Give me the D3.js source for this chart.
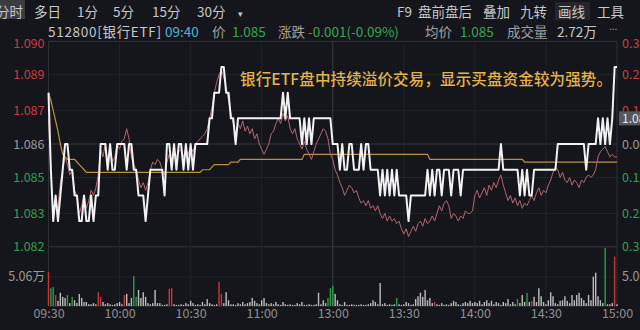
<!DOCTYPE html>
<html>
<head>
<meta charset="utf-8">
<script src="https://cdnjs.cloudflare.com/ajax/libs/d3/7.8.5/d3.min.js"></script>
<style>
html, body { margin: 0; padding: 0; background: #15161b; overflow: hidden; }
svg { display: block; font-family: "Noto Sans CJK SC", "Microsoft YaHei", sans-serif; }
.axis path, .axis line { display: none; }
</style>
</head>
<body>
<script>
// set up SVG
var w = 640;
var h = 330;

// plot box
var pdL = 48.5;
var pdR = 617;
var pdT = 41.3;
var pdB = 246.8;
var volBase = 306;

var prevClose = 1.086;

// minute prices 09:30 .. 15:00 (lunch break collapsed)
var prices = [
  1.088,1.085,1.083,1.084,1.083,1.084,1.085,1.086,1.086,1.085,
  1.085,1.084,1.084,1.083,1.083,1.084,1.083,1.083,1.084,1.083,
  1.084,1.084,1.086,1.086,1.086,1.085,1.086,1.085,1.085,1.086,
  1.086,1.086,1.086,1.085,1.086,1.086,1.085,1.085,1.084,1.084,
  1.084,1.083,1.084,1.085,1.085,1.085,1.085,1.085,1.085,1.084,
  1.086,1.086,1.085,1.086,1.085,1.086,1.086,1.085,1.086,1.085,
  1.086,1.085,1.086,1.086,1.086,1.086,1.086,1.086,1.087,1.087,
  1.088,1.088,1.088,1.089,1.089,1.088,1.088,1.087,1.087,1.086,
  1.087,1.087,1.087,1.087,1.087,1.087,1.087,1.087,1.087,1.087,
  1.087,1.087,1.087,1.087,1.087,1.087,1.087,1.087,1.087,1.088,
  1.087,1.088,1.087,1.087,1.087,1.087,1.087,1.086,1.087,1.086,
  1.087,1.086,1.087,1.087,1.087,1.087,1.087,1.087,1.087,1.087,
  1.086,1.086,1.086,1.085,1.086,1.085,1.085,1.086,1.086,1.085,
  1.085,1.085,1.086,1.085,1.086,1.086,1.085,1.085,1.085,1.085,
  1.084,1.085,1.084,1.085,1.084,1.085,1.084,1.085,1.084,1.084,
  1.084,1.084,1.083,1.084,1.084,1.084,1.084,1.084,1.084,1.084,
  1.085,1.084,1.085,1.084,1.085,1.085,1.084,1.085,1.085,1.085,
  1.084,1.085,1.085,1.085,1.084,1.085,1.085,1.085,1.085,1.085,
  1.085,1.085,1.085,1.085,1.085,1.085,1.085,1.085,1.085,1.085,
  1.085,1.086,1.085,1.085,1.085,1.085,1.085,1.085,1.085,1.084,
  1.085,1.084,1.085,1.084,1.084,1.085,1.085,1.085,1.085,1.085,
  1.085,1.085,1.085,1.085,1.085,1.086,1.086,1.086,1.086,1.086,
  1.086,1.086,1.086,1.086,1.086,1.086,1.086,1.085,1.086,1.086,
  1.086,1.086,1.087,1.086,1.087,1.086,1.087,1.086,1.087,1.089,
  1.089
];

// IOPV (pink line)
var iopv = [
  1.0870,1.0850,1.0832,1.0838,1.0835,1.0845,1.0850,1.0855,1.0852,1.0848,
  1.0850,1.0842,1.0840,1.0833,1.0836,1.0840,1.0835,1.0838,1.0842,1.0840,
  1.0843,1.0848,1.0858,1.0855,1.0860,1.0852,1.0858,1.0853,1.0855,1.0860,
  1.0858,1.0861,1.0862,1.0866,1.0862,1.0855,1.0852,1.0850,1.0846,1.0843,
  1.0845,1.0842,1.0845,1.0850,1.0853,1.0852,1.0854,1.0853,1.0850,1.0848,
  1.0853,1.0856,1.0854,1.0858,1.0855,1.0857,1.0858,1.0855,1.0858,1.0856,
  1.0859,1.0857,1.0860,1.0861,1.0862,1.0863,1.0864,1.0866,1.0870,1.0874,
  1.0880,1.0884,1.0887,1.0889,1.0886,1.0882,1.0877,1.0872,1.0868,1.0864,
  1.0868,1.0866,1.0869,1.0865,1.0867,1.0864,1.0866,1.0862,1.0864,1.0860,
  1.0858,1.0856,1.0858,1.0860,1.0864,1.0865,1.0868,1.0870,1.0868,1.0872,
  1.0869,1.0871,1.0866,1.0864,1.0866,1.0862,1.0860,1.0858,1.0861,1.0858,
  1.0856,1.0854,1.0857,1.0860,1.0862,1.0864,1.0866,1.0865,1.0862,1.0856,
  1.0854,1.0850,1.0848,1.0845,1.0843,1.0840,1.0842,1.0844,1.0843,1.0841,
  1.0842,1.0839,1.0837,1.0838,1.0836,1.0838,1.0835,1.0836,1.0834,1.0836,
  1.0833,1.0831,1.0833,1.0830,1.0832,1.0830,1.0831,1.0829,1.0830,1.0827,
  1.0825,1.0827,1.0824,1.0826,1.0828,1.0826,1.0829,1.0830,1.0828,1.0831,
  1.0829,1.0830,1.0832,1.0830,1.0833,1.0836,1.0834,1.0837,1.0838,1.0836,
  1.0831,1.0833,1.0832,1.0830,1.0832,1.0831,1.0834,1.0833,1.0833,1.0834,
  1.0840,1.0842,1.0839,1.0841,1.0843,1.0840,1.0844,1.0842,1.0845,1.0843,
  1.0846,1.0848,1.0844,1.0841,1.0838,1.0840,1.0837,1.0839,1.0836,1.0838,
  1.0835,1.0837,1.0836,1.0838,1.0840,1.0838,1.0841,1.0843,1.0840,1.0842,
  1.0841,1.0844,1.0846,1.0849,1.0851,1.0850,1.0847,1.0849,1.0846,1.0845,
  1.0847,1.0844,1.0846,1.0845,1.0843,1.0846,1.0845,1.0847,1.0848,1.0847,
  1.0848,1.0850,1.0855,1.0857,1.0858,1.0859,1.0857,1.0855,1.0856,1.0855,
  1.0855
];

// average price (yellow line)
var avgPrice = [
  1.0880,1.0877,1.0873,1.0869,1.0865,1.0860,1.0856,1.0855,1.0854,1.0854,
  1.0854,1.0854,1.0853,1.0852,1.0851,1.0850,1.0849,1.0849,1.0849,1.0849,
  1.0849,1.0849,1.0849,1.0849,1.0849,1.0849,1.0849,1.0849,1.0849,1.0849,
  1.0849,1.0849,1.0849,1.0849,1.0849,1.0849,1.0849,1.0849,1.0849,1.0849,
  1.0849,1.0849,1.0849,1.0849,1.0849,1.0849,1.0849,1.0849,1.0849,1.0849,
  1.0849,1.0849,1.0849,1.0849,1.0849,1.0849,1.0849,1.0849,1.0849,1.0849,
  1.0849,1.0849,1.0849,1.0849,1.0849,1.0850,1.0850,1.0850,1.0850,1.0851,
  1.0852,1.0852,1.0852,1.0852,1.0852,1.0852,1.0852,1.0853,1.0853,1.0853,
  1.0853,1.0854,1.0854,1.0854,1.0854,1.0854,1.0854,1.0854,1.0854,1.0854,
  1.0854,1.0854,1.0854,1.0854,1.0854,1.0854,1.0854,1.0854,1.0854,1.0854,
  1.0854,1.0854,1.0854,1.0854,1.0854,1.0854,1.0854,1.0854,1.0856,1.0856,
  1.0856,1.0856,1.0856,1.0856,1.0856,1.0856,1.0856,1.0856,1.0856,1.0856,
  1.0856,1.0856,1.0856,1.0856,1.0856,1.0856,1.0856,1.0856,1.0856,1.0856,
  1.0856,1.0856,1.0856,1.0856,1.0856,1.0856,1.0856,1.0856,1.0856,1.0856,
  1.0856,1.0856,1.0856,1.0856,1.0856,1.0856,1.0856,1.0856,1.0856,1.0856,
  1.0856,1.0856,1.0856,1.0856,1.0856,1.0856,1.0856,1.0856,1.0856,1.0856,
  1.0856,1.0854,1.0854,1.0854,1.0854,1.0854,1.0854,1.0854,1.0854,1.0854,
  1.0854,1.0854,1.0854,1.0854,1.0854,1.0854,1.0854,1.0854,1.0854,1.0854,
  1.0854,1.0854,1.0854,1.0854,1.0854,1.0854,1.0854,1.0854,1.0854,1.0854,
  1.0854,1.0854,1.0854,1.0854,1.0854,1.0854,1.0854,1.0854,1.0854,1.0854,
  1.0854,1.0853,1.0853,1.0853,1.0853,1.0853,1.0853,1.0853,1.0853,1.0853,
  1.0853,1.0853,1.0853,1.0853,1.0853,1.0853,1.0853,1.0853,1.0853,1.0853,
  1.0853,1.0853,1.0853,1.0853,1.0853,1.0853,1.0853,1.0853,1.0853,1.0853,
  1.0853,1.0853,1.0853,1.0853,1.0853,1.0853,1.0853,1.0853,1.0853,1.0853,
  1.0853
];

// minute volume, in thousands of shares
var volumes = [
  59,31,33,19,9,23,16,14,19,5,
  16,10,5,21,14,7,7,3,3,5,
  3,24,16,7,3,5,3,2,3,5,
  7,3,19,21,5,14,52,16,28,14,
  24,16,5,3,5,28,5,5,2,2,
  3,30,31,3,2,2,3,2,5,3,
  9,5,2,3,2,7,3,12,5,3,
  2,3,42,21,5,24,10,3,3,2,
  5,3,7,3,5,7,14,9,5,3,
  10,14,5,3,5,3,7,3,2,7,
  3,2,3,2,2,5,3,7,2,2,
  3,2,2,3,23,3,10,5,14,31,
  35,21,10,3,2,7,2,2,3,2,
  2,2,3,2,2,3,5,10,7,3,
  40,3,5,2,3,2,3,14,3,2,
  3,7,5,2,3,12,17,23,16,28,
  10,14,5,7,3,2,5,2,3,2,
  5,9,7,3,2,5,7,5,9,5,
  7,5,9,3,7,10,5,9,3,7,
  5,2,7,5,12,3,7,3,12,5,
  19,7,23,7,9,16,7,31,17,7,
  3,10,24,17,5,3,9,10,17,9,
  5,19,10,19,23,14,10,5,19,10,
  51,58,17,10,5,101.2,3,3,5,86,
  3
];

// bar colour per minute: r = up, g = down, w = flat
var volDir = ("rggrwwwwgw" + "gwwwwwwwww" + "wrrwwwwwww" + "wwrwwwggww" + "wwwwwwwwww" +
              "wrrwwwwwww" + "wwwwwwwwww" + "wwrrwwwwww" + "wwwwwwwwww" + "wwwwwwwwww" +
              "wwwwwwwwww" + "wwwwwwwwgg" + "gwwwwwwwww" + "wwwwwwwwww" + "wwwwwwwgww" +
              "wwwwwwwwww" + "wwwrwwwwww" + "wwwwwwwwww" + "wwwwwwwwww" + "wwwwwwwwgw" +
              "wwgwrwwwww" + "wwwwwwwwww" + "wwwwwwwwww" + "wwwwwgwwwr" + "w").split("");

// ticks
var priceTicks = [1.0900, 1.0887, 1.0873, 1.0860, 1.0847, 1.0833, 1.0820];
var priceLabels = ["1.090", "1.089", "1.087", "1.086", "1.085", "1.083", "1.082"];
var pctLabels = ["0.37%", "0.25%", "0.12%", "0.00%", "0.12%", "0.25%", "0.37%"];
var timeIdx = [0, 30, 60, 90, 120, 150, 180, 210, 240];
var timeLabels = ["09:30", "10:00", "10:30", "11:00", "13:00", "13:30", "14:00", "14:30", "15:00"];

// toolbar and info row
var tabsL = ["分时", "多日", "1分", "5分", "15分", "30分", "▾"];
var tabsLx = [-4, 34, 77, 113, 152, 197, 238];
var tabsR = ["F9", "盘前盘后", "叠加", "九转", "画线", "工具"];
var tabsRx = [397, 418, 483, 520, 558, 597];
var infoText = ["512800[银行ETF]", "09:40", "价", "1.085", "涨跌", "-0.001(-0.09%)", "均价", "1.085", "成交量", "2.72万"];
var infoX = [48, 165, 212, 232, 278, 308, 425, 460, 507, 557];
var infoCol = ["#c8c8c8", "#4db6cc", "#a0a0a0", "#34a556", "#a0a0a0", "#34a556", "#a0a0a0", "#34a556", "#a0a0a0", "#c8c8c8"];
var note = "银行ETF盘中持续溢价交易，显示买盘资金较为强势。";

var red = "#cc3a40";
var green = "#2f9f50";
var grey = "#9a9a9a";

var pickCol = function(v) {
    if (Math.abs(v - prevClose) < 1e-6) return grey;
    return v > prevClose ? red : green;
};

// scales
var scaleX = d3.scaleLinear().domain([0, 240]).range([pdL, pdR]);
var scaleY = d3.scaleLinear().domain([1.082, 1.090]).range([pdB, pdT]);
var scaleV = d3.scaleLinear().domain([0, d3.max(volumes)]).range([volBase, pdB + 1]);

var svg = d3.select("body")
            .append("svg")
            .attr("width", w)
            .attr("height", h);

svg.append("rect").attr("width", w).attr("height", h).attr("fill", "#15161b");

// toolbar
svg.append("rect").attr("x", 0).attr("y", 0).attr("width", 25).attr("height", 19).attr("fill", "#3a3c42");
svg.append("rect").attr("x", 555).attr("y", 2).attr("width", 35).attr("height", 18).attr("fill", "#24262b");
svg.selectAll(".tabL")
   .data(tabsL)
   .enter()
   .append("text")
   .attr("class", "tabL")
   .attr("x", function(d, i) { return tabsLx[i]; })
   .attr("y", 17)
   .attr("font-size", function(d) { return d === "▾" ? 9 : 13.5; })
   .attr("fill", "#c8c8c8")
   .text(function(d) { return d; });
svg.selectAll(".tabR")
   .data(tabsR)
   .enter()
   .append("text")
   .attr("class", "tabR")
   .attr("x", function(d, i) { return tabsRx[i]; })
   .attr("y", 17)
   .attr("font-size", 13.5)
   .attr("fill", "#c8c8c8")
   .text(function(d) { return d; });

// info row
svg.selectAll(".info")
   .data(infoText)
   .enter()
   .append("text")
   .attr("class", "info")
   .attr("x", function(d, i) { return infoX[i]; })
   .attr("y", 37)
   .attr("font-size", 13.5)
   .attr("fill", function(d, i) { return infoCol[i]; })
   .attr("textLength", function(d, i) { return i === 0 ? 113 : null; })
   .text(function(d) { return d; });
svg.append("text").attr("x", 609).attr("y", 30).attr("font-size", 10).attr("fill", "#a0a0a0").text("...");

// grid
var grid = svg.append("g");
grid.selectAll(".hl")
    .data(priceTicks)
    .enter()
    .append("line")
    .attr("x1", pdL).attr("x2", pdR)
    .attr("y1", function(d) { return scaleY(d); })
    .attr("y2", function(d) { return scaleY(d); })
    .attr("stroke", function(d, i) { return (i === 3 || i === 6 || i === 0) ? "#34363d" : "#202228"; })
    .attr("stroke-width", 1);
grid.append("line")
    .attr("x1", pdL).attr("x2", pdR)
    .attr("y1", scaleV(d3.max(volumes) / 2)).attr("y2", scaleV(d3.max(volumes) / 2))
    .attr("stroke", "#1f2126");
grid.append("line")
    .attr("x1", pdL).attr("x2", pdR)
    .attr("y1", volBase + 0.5).attr("y2", volBase + 0.5)
    .attr("stroke", "#26282e");
grid.selectAll(".vl")
    .data(timeIdx)
    .enter()
    .append("line")
    .attr("x1", function(d) { return scaleX(d); })
    .attr("x2", function(d) { return scaleX(d); })
    .attr("y1", pdT).attr("y2", volBase)
    .attr("stroke", function(d) { return d === 120 ? "#3a3d44" : (d === 0 || d === 240 ? "#2e3036" : "#222429"); })
    .attr("stroke-width", 1);

// volume bars
svg.selectAll(".vol")
   .data(volumes)
   .enter()
   .append("rect")
   .attr("x", function(d, i) { return scaleX(i) - 0.7; })
   .attr("y", function(d) { return scaleV(d); })
   .attr("width", 1.4)
   .attr("height", function(d) { return volBase - scaleV(d); })
   .attr("fill", function(d, i) {
        var c = volDir[i];
        return c === "r" ? "#c8343b" : (c === "g" ? "#2c9c4a" : "#bdbdbd");
   });

// lines
var lineGen = d3.line()
                .x(function(d, i) { return scaleX(i); })
                .y(function(d) { return scaleY(d); });

svg.append("path").datum(avgPrice)
   .attr("d", lineGen).attr("fill", "none")
   .attr("stroke", "#b8933c").attr("stroke-width", 1.2);
svg.append("path").datum(iopv)
   .attr("d", lineGen).attr("fill", "none")
   .attr("stroke", "#b2676c").attr("stroke-width", 1);
svg.append("path").datum(prices)
   .attr("d", lineGen).attr("fill", "none")
   .attr("stroke", "#f2f2f2").attr("stroke-width", 2)
   .attr("stroke-linejoin", "round");

// y-axis left
var axisL = d3.axisLeft(scaleY)
              .tickValues(priceTicks)
              .tickFormat(function(d, i) { return priceLabels[i]; })
              .tickSize(0)
              .tickPadding(3);
var gL = svg.append("g").attr("class", "axis").attr("transform", "translate(" + 47.5 + ",0)").call(axisL);
gL.selectAll("text")
  .attr("font-size", 12.5)
  .attr("font-family", "'Noto Sans CJK SC', sans-serif")
  .attr("fill", function(d) { return pickCol(d); })
  .attr("dy", function(d, i) { return i === 0 ? "0.5em" : "0.32em"; });

// y-axis right (percent)
var axisR = d3.axisRight(scaleY)
              .tickValues(priceTicks)
              .tickFormat(function(d, i) { return pctLabels[i]; })
              .tickSize(0)
              .tickPadding(4);
var gR = svg.append("g").attr("class", "axis").attr("transform", "translate(" + 618 + ",0)").call(axisR);
gR.selectAll("text")
  .attr("font-size", 12.5)
  .attr("font-family", "'Noto Sans CJK SC', sans-serif")
  .attr("fill", function(d) { return pickCol(d); })
  .attr("dy", function(d, i) { return i === 0 ? "0.5em" : "0.32em"; });

// volume labels
svg.append("text")
   .attr("x", 45).attr("y", scaleV(d3.max(volumes) / 2))
   .attr("dy", "0.32em").attr("text-anchor", "end")
   .attr("font-size", 12.5).attr("fill", grey)
   .text((d3.max(volumes) / 2 / 10).toFixed(2) + "万");
svg.append("text")
   .attr("x", 622).attr("y", scaleV(d3.max(volumes) / 2))
   .attr("dy", "0.32em")
   .attr("font-size", 12.5).attr("fill", grey)
   .text((d3.max(volumes) / 2 / 10).toFixed(2) + "万");

// price tag on the right
svg.append("rect").attr("x", 619).attr("y", scaleY(1.087) - 7).attr("width", 30).attr("height", 14).attr("fill", "#55585f");
svg.append("text").attr("x", 622).attr("y", scaleY(1.087)).attr("dy", "0.35em")
   .attr("font-size", 12).attr("fill", "#e8e8e8").text("1.087");

// x-axis
var axisX = d3.axisBottom(scaleX)
              .tickValues(timeIdx)
              .tickFormat(function(d, i) { return timeLabels[i]; })
              .tickSize(0)
              .tickPadding(0);
var gX = svg.append("g").attr("class", "axis").attr("transform", "translate(0," + 309 + ")").call(axisX);
gX.selectAll("text")
  .attr("font-size", 12.5)
  .attr("font-family", "'Noto Sans CJK SC', sans-serif")
  .attr("fill", "#8e8e8e");

// annotation
svg.append("text")
   .attr("x", 240).attr("y", 80)
   .attr("dy", "0.35em")
   .attr("font-size", 15.5)
   .attr("font-weight", 500)
   .attr("fill", "#e6b445")
   .attr("textLength", 372)
   .attr("lengthAdjust", "spacing")
   .text(note);
</script>
</body>
</html>
